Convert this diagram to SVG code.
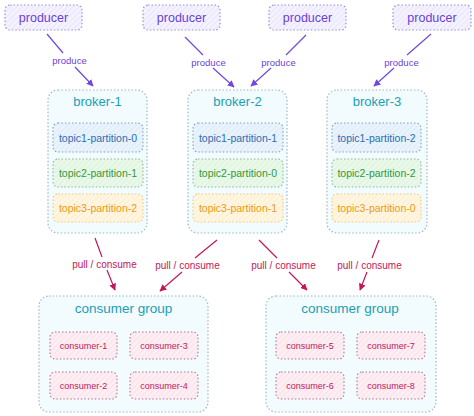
<svg xmlns="http://www.w3.org/2000/svg" width="474" height="416" viewBox="0 0 474 416">
<defs>
<pattern id="hP" width="4" height="4" patternUnits="userSpaceOnUse" patternTransform="rotate(45)"><rect width="4" height="4" fill="#f5f2ff"/><line x1="0" y1="0" x2="0" y2="4" stroke="#e2dcfa" stroke-width="1.2"/></pattern>
<pattern id="hB" width="4" height="4" patternUnits="userSpaceOnUse" patternTransform="rotate(45)"><rect width="4" height="4" fill="#e9f3fc"/><line x1="0" y1="0" x2="0" y2="4" stroke="#d3e6f7" stroke-width="1.2"/></pattern>
<pattern id="hG" width="4" height="4" patternUnits="userSpaceOnUse" patternTransform="rotate(45)"><rect width="4" height="4" fill="#eaf8ea"/><line x1="0" y1="0" x2="0" y2="4" stroke="#d4f0d4" stroke-width="1.2"/></pattern>
<pattern id="hO" width="4" height="4" patternUnits="userSpaceOnUse" patternTransform="rotate(45)"><rect width="4" height="4" fill="#fff6e2"/><line x1="0" y1="0" x2="0" y2="4" stroke="#fde9bf" stroke-width="1.2"/></pattern>
<pattern id="hC" width="4" height="4" patternUnits="userSpaceOnUse" patternTransform="rotate(45)"><rect width="4" height="4" fill="#fdeef3"/><line x1="0" y1="0" x2="0" y2="4" stroke="#f9d8e3" stroke-width="1.2"/></pattern>
<marker id="aP" viewBox="0 0 10 10" refX="9" refY="5" markerWidth="7" markerHeight="7" orient="auto" markerUnits="userSpaceOnUse"><path d="M0,0 L10,5 L0,10 z" fill="#7048e0"/></marker>
<marker id="aC" viewBox="0 0 10 10" refX="9" refY="5" markerWidth="7" markerHeight="7" orient="auto" markerUnits="userSpaceOnUse"><path d="M0,0 L10,5 L0,10 z" fill="#c2185b"/></marker>
</defs>
<style>
text{font-family:"Liberation Sans",Arial,sans-serif;text-anchor:middle;dominant-baseline:central}
.prod rect{fill:url(#hP);stroke:#9d8fd6;stroke-width:1.2;stroke-dasharray:1.5 2}
.prod text{fill:#6a3fd6;font-size:12.5px}
.box{fill:#f2fbfe;stroke:#9fb8c4;stroke-width:1.2;stroke-dasharray:1.5 2}
text.bt{fill:#1b9fb3;font-size:13px}
text.gt{fill:#1b9fb3;font-size:13.5px}
.t1{fill:url(#hB);stroke:#8aa2b8;stroke-width:1.1;stroke-dasharray:1.5 2}
.t2{fill:url(#hG);stroke:#8fb89a;stroke-width:1.1;stroke-dasharray:1.5 2}
.t3{fill:url(#hO);stroke:#f0c97a;stroke-width:1.1;stroke-dasharray:1.5 2}
text.x1{fill:#2e6db3;font-size:10.5px}
text.x2{fill:#2f9a3c;font-size:10.5px}
text.x3{fill:#ec9a17;font-size:10.5px}
.cons rect{fill:url(#hC);stroke:#b07a90;stroke-width:1.1;stroke-dasharray:1.5 2}
.cons text{fill:#c2185b;font-size:9px}
.pa{fill:none;stroke:#7048e0;stroke-width:1.2;marker-end:url(#aP)}
.ca{fill:none;stroke:#c2185b;stroke-width:1.2;marker-end:url(#aC)}
text.pl{fill:#6a3fd6;font-size:9.5px}
text.cl{fill:#c2185b;font-size:10px}
</style>
<rect width="474" height="416" fill="#ffffff"/>

<g id="producer-1" class="prod"><rect x="5" y="5" width="77" height="25" rx="5"/><text x="43.5" y="17.5">producer</text></g>
<g id="producer-2" class="prod"><rect x="143" y="5" width="77" height="25" rx="5"/><text x="181.5" y="17.5">producer</text></g>
<g id="producer-3" class="prod"><rect x="269" y="5" width="77" height="25" rx="5"/><text x="307.5" y="17.5">producer</text></g>
<g id="producer-4" class="prod"><rect x="393" y="5" width="78" height="25" rx="5"/><text x="432" y="17.5">producer</text></g>

<g id="broker-1">
<rect class="box" x="48" y="90" width="99" height="143" rx="10"/>
<text class="bt" x="97.5" y="101">broker-1</text>
<rect class="t1" x="53" y="123" width="90" height="29" rx="5"/><text class="x1" x="98" y="137.5">topic1-partition-0</text>
<rect class="t2" x="53" y="159" width="90" height="28" rx="5"/><text class="x2" x="98" y="173">topic2-partition-1</text>
<rect class="t3" x="53" y="194" width="90" height="28" rx="5"/><text class="x3" x="98" y="208">topic3-partition-2</text>
</g>
<g id="broker-2">
<rect class="box" x="188" y="90" width="99" height="143" rx="10"/>
<text class="bt" x="237.5" y="101">broker-2</text>
<rect class="t1" x="193" y="123" width="90" height="29" rx="5"/><text class="x1" x="238" y="137.5">topic1-partition-1</text>
<rect class="t2" x="193" y="159" width="90" height="28" rx="5"/><text class="x2" x="238" y="173">topic2-partition-0</text>
<rect class="t3" x="193" y="194" width="90" height="28" rx="5"/><text class="x3" x="238" y="208">topic3-partition-1</text>
</g>
<g id="broker-3">
<rect class="box" x="327" y="90" width="100" height="143" rx="10"/>
<text class="bt" x="377" y="101">broker-3</text>
<rect class="t1" x="332" y="123" width="89" height="29" rx="5"/><text class="x1" x="376.5" y="137.5">topic1-partition-2</text>
<rect class="t2" x="332" y="159" width="89" height="28" rx="5"/><text class="x2" x="376.5" y="173">topic2-partition-2</text>
<rect class="t3" x="332" y="194" width="89" height="28" rx="5"/><text class="x3" x="376.5" y="208">topic3-partition-0</text>
</g>

<g id="consumer-group-1">
<rect class="box" x="39" y="296" width="169" height="116" rx="10"/>
<text class="gt" x="123.5" y="308">consumer group</text>
<g id="consumer-1" class="cons"><rect x="50" y="332" width="67" height="27" rx="5"/><text x="83.5" y="345.5">consumer-1</text></g>
<g id="consumer-3" class="cons"><rect x="130" y="332" width="68" height="27" rx="5"/><text x="164" y="345.5">consumer-3</text></g>
<g id="consumer-2" class="cons"><rect x="50" y="372" width="67" height="27" rx="5"/><text x="83.5" y="385.5">consumer-2</text></g>
<g id="consumer-4" class="cons"><rect x="130" y="372" width="68" height="27" rx="5"/><text x="164" y="385.5">consumer-4</text></g>
</g>
<g id="consumer-group-2">
<rect class="box" x="266" y="296" width="170" height="116" rx="10"/>
<text class="gt" x="350" y="308">consumer group</text>
<g id="consumer-5" class="cons"><rect x="276" y="332" width="68" height="27" rx="5"/><text x="310" y="345.5">consumer-5</text></g>
<g id="consumer-7" class="cons"><rect x="357" y="332" width="68" height="27" rx="5"/><text x="391" y="345.5">consumer-7</text></g>
<g id="consumer-6" class="cons"><rect x="276" y="372" width="68" height="27" rx="5"/><text x="310" y="385.5">consumer-6</text></g>
<g id="consumer-8" class="cons"><rect x="357" y="372" width="68" height="27" rx="5"/><text x="391" y="385.5">consumer-8</text></g>
</g>

<g id="connectors">
<path class="pa" d="M47,34 L63,53 M75,67 L93,86"/>
<text class="pl" x="69.5" y="60.5">produce</text>
<path class="pa" d="M185,37 L203,55 M213,68 L234,87"/>
<text class="pl" x="208.5" y="62">produce</text>
<path class="pa" d="M306,35 L286,55 M271,68 L251,86"/>
<text class="pl" x="278.5" y="62">produce</text>
<path class="pa" d="M431,34 L407,55 M394,68 L374,86"/>
<text class="pl" x="401.5" y="62">produce</text>

<path class="ca" d="M95,238 L102,257 M107,270 L115,290"/>
<text class="cl" x="104.5" y="264.5">pull / consume</text>
<path class="ca" d="M217,240 L195,258 M182,272 L160,291"/>
<text class="cl" x="187.5" y="265">pull / consume</text>
<path class="ca" d="M259,240 L277,258 M289,272 L307,290"/>
<text class="cl" x="283.5" y="265">pull / consume</text>
<path class="ca" d="M379,240 L372,258 M367,272 L360,290"/>
<text class="cl" x="369.5" y="265">pull / consume</text>
</g>
</svg>
